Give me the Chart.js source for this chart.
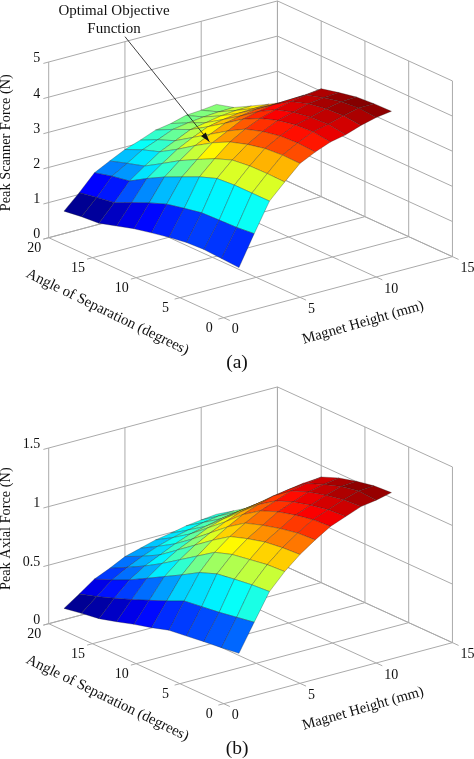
<!DOCTYPE html>
<html>
<head>
<meta charset="utf-8">
<title>Peak force surfaces</title>
<script src="https://cdn.jsdelivr.net/npm/chart.js@4/dist/chart.umd.js"></script>
<style>
  html, body { margin: 0; padding: 0; background: #fff; }
  canvas { display: block; }
</style>
</head>
<body>
<canvas id="scanner" width="474" height="380"></canvas>
<canvas id="axial" width="474" height="379"></canvas>
<script>
// Grid of the surface: one row per angle, one column per magnet height
const angles = [0, 2, 4, 6, 8, 10, 12, 14, 16, 18, 20];
const heights = [1, 2, 3, 4, 5, 6, 7, 8, 9, 10, 11];

// Figure (a)
const scannerForce = [
  [1.31, 2.16, 2.97, 3.40, 3.81, 4.02, 4.19, 4.28, 4.43, 4.54, 4.60],
  [1.34, 2.11, 2.97, 3.41, 3.82, 4.05, 4.25, 4.35, 4.48, 4.58, 4.59],
  [1.37, 2.09, 2.97, 3.40, 3.78, 4.02, 4.22, 4.32, 4.45, 4.53, 4.55],
  [1.34, 2.07, 2.93, 3.34, 3.67, 3.92, 4.12, 4.24, 4.36, 4.42, 4.45],
  [1.26, 1.97, 2.75, 3.15, 3.51, 3.76, 3.95, 4.08, 4.20, 4.27, 4.33],
  [1.16, 1.86, 2.52, 2.90, 3.26, 3.48, 3.70, 3.80, 3.88, 3.90, 3.92],
  [1.05, 1.67, 2.29, 2.64, 2.95, 3.16, 3.36, 3.45, 3.52, 3.52, 3.50],
  [0.90, 1.45, 2.02, 2.33, 2.62, 2.84, 3.03, 3.12, 3.18, 3.20, 3.21],
  [0.75, 1.22, 1.72, 2.03, 2.32, 2.52, 2.72, 2.80, 2.88, 2.92, 2.93],
  [0.71, 1.14, 1.63, 1.88, 2.15, 2.32, 2.50, 2.57, 2.62, 2.65, 2.66],
  [0.64, 1.05, 1.50, 1.72, 1.93, 2.08, 2.25, 2.32, 2.44, 2.47, 2.52]
];

// Figure (b)
const axialForce = [
  [0.395, 0.626, 0.853, 0.989, 1.10, 1.19, 1.27, 1.32, 1.37, 1.39, 1.42],
  [0.375, 0.600, 0.842, 0.980, 1.09, 1.18, 1.26, 1.31, 1.36, 1.40, 1.41],
  [0.358, 0.574, 0.822, 0.955, 1.07, 1.15, 1.23, 1.28, 1.33, 1.37, 1.38],
  [0.338, 0.554, 0.799, 0.930, 1.03, 1.11, 1.19, 1.24, 1.29, 1.32, 1.34],
  [0.319, 0.534, 0.742, 0.880, 0.98, 1.06, 1.13, 1.18, 1.23, 1.26, 1.28],
  [0.273, 0.466, 0.654, 0.780, 0.88, 0.96, 1.03, 1.08, 1.12, 1.14, 1.16],
  [0.233, 0.403, 0.571, 0.680, 0.77, 0.84, 0.90, 0.95, 0.98, 1.00, 1.01],
  [0.187, 0.341, 0.488, 0.580, 0.66, 0.72, 0.78, 0.82, 0.85, 0.87, 0.88],
  [0.145, 0.284, 0.406, 0.490, 0.55, 0.61, 0.66, 0.69, 0.72, 0.74, 0.75],
  [0.122, 0.230, 0.337, 0.410, 0.47, 0.52, 0.56, 0.59, 0.62, 0.64, 0.65],
  [0.096, 0.184, 0.277, 0.334, 0.399, 0.435, 0.472, 0.494, 0.522, 0.538, 0.552]
];

const angleTicks = [0, 5, 10, 15, 20];
const heightTicks = [0, 5, 10, 15];
const scannerTicks = [0, 1, 2, 3, 4, 5];
const axialTicks = [0, 0.5, 1, 1.5];

const FONT = '"Liberation Serif", "Times New Roman", serif';
const GRID = '#aaaaaa';

// Jet colormap, t goes from 0 to 1
function jet(t) {
  const c = v => Math.round(255 * Math.max(0, Math.min(1, v)));
  const r = 1.5 - Math.abs(4 * t - 3);
  const g = 1.5 - Math.abs(4 * t - 2);
  const b = 1.5 - Math.abs(4 * t - 1);
  return `rgb(${c(r)},${c(g)},${c(b)})`;
}

function buildPanel(canvasId, panel) {
  const zMax = panel.zTicks[panel.zTicks.length - 1];
  const flat = panel.values.flat();
  const low = Math.min(...flat);
  const high = Math.max(...flat);

  // Orthographic view of the box, result is in the units of the hidden x/y scales
  const project = (a, h, z) => ({
    x: 223.7 - 8.75 * a + 15.25 * h,
    y: panel.originY - 4 * a - 4.07 * h - 175.7 * z / zMax
  });

  const line = (p, q) => ({
    data: [p, q],
    showLine: true,
    fill: false,
    borderColor: GRID,
    borderWidth: 1,
    pointRadius: 0
  });

  const datasets = [];

  // The first dataset is painted last, so cells go from the front to the back
  for (let i = 0; i < angles.length - 1; i++) {
    for (let j = 0; j < heights.length - 1; j++) {
      const z = panel.values;
      datasets.push({
        data: [
          project(angles[i], heights[j], z[i][j]),
          project(angles[i + 1], heights[j], z[i + 1][j]),
          project(angles[i + 1], heights[j + 1], z[i + 1][j + 1]),
          project(angles[i], heights[j + 1], z[i][j + 1]),
          project(angles[i], heights[j], z[i][j])
        ],
        showLine: true,
        fill: 'shape',
        tension: 0,
        backgroundColor: jet((z[i][j] - low) / (high - low)),
        borderColor: 'rgba(30,30,30,0.42)',
        borderWidth: 0.7,
        pointRadius: 0
      });
    }
  }

  // Walls, floor and the short tick marks outside the box
  angleTicks.forEach(a => {
    datasets.push(line(project(a, -0.35, 0), project(a, 15, 0)));
    datasets.push(line(project(a, 15, 0), project(a, 15, zMax)));
  });
  heightTicks.forEach(h => {
    datasets.push(line(project(-0.7, h, 0), project(20, h, 0)));
    datasets.push(line(project(20, h, 0), project(20, h, zMax)));
  });
  panel.zTicks.forEach(v => {
    datasets.push(line(project(20, -0.35, v), project(20, 15, v)));
    datasets.push(line(project(20, 15, v), project(0, 15, v)));
  });

  const rotated = (ctx, text, x, y, deg, size) => {
    ctx.save();
    ctx.translate(x, y);
    ctx.rotate(deg * Math.PI / 180);
    ctx.font = `${size}px ${FONT}`;
    ctx.textAlign = 'center';
    ctx.textBaseline = 'middle';
    ctx.fillText(text, 0, 0);
    ctx.restore();
  };

  const textPlugin = {
    id: 'boxText',
    afterDatasetsDraw(chart) {
      const ctx = chart.ctx;
      const sx = chart.scales.x;
      const sy = chart.scales.y;
      const at = p => ({ x: sx.getPixelForValue(p.x), y: sy.getPixelForValue(p.y) });

      ctx.save();
      ctx.fillStyle = '#111';

      ctx.font = `14px ${FONT}`;
      ctx.textBaseline = 'middle';
      ctx.textAlign = 'right';
      panel.zTicks.forEach(v => {
        const p = at(project(20, 0, v));
        ctx.fillText(String(v), p.x - 8.5, p.y - 3.3);
      });
      ctx.textAlign = 'center';
      angleTicks.forEach(a => {
        const p = at(project(a, 0, 0));
        ctx.fillText(String(a), p.x - 14.5, p.y + 10.7);
      });
      ctx.textAlign = 'left';
      heightTicks.forEach(h => {
        const p = at(project(0, h, 0));
        ctx.fillText(String(h), p.x + 8, p.y + 12);
      });

      const o = panel.originY;
      rotated(ctx, panel.zTitle, 6.5, o - 175, -90, 14.3);
      rotated(ctx, 'Angle of Separation (degrees)', 107.5, o - 5.5, 26, 14.9);
      rotated(ctx, 'Magnet Height (mm)', 363, o + 5, -16, 14.8);
      rotated(ctx, panel.caption, 237, o + 45, 0, 19.5);

      // Note and arrow of figure (a) point at a grid vertex of the surface
      if (panel.note) {
        panel.note.forEach((t, k) => rotated(ctx, t, 114, 11 + 18 * k, 0, 15));
        const tip = at(project(10, 5, panel.values[5][4]));
        const tx = tip.x - 3, ty = tip.y - 1;
        const fx = 125, fy = 36.7;
        const ang = Math.atan2(ty - fy, tx - fx);
        ctx.strokeStyle = '#111';
        ctx.lineWidth = 0.8;
        ctx.beginPath();
        ctx.moveTo(fx, fy);
        ctx.lineTo(tx, ty);
        ctx.stroke();
        ctx.beginPath();
        ctx.moveTo(tx, ty);
        ctx.lineTo(tx - 10 * Math.cos(ang - 0.3), ty - 10 * Math.sin(ang - 0.3));
        ctx.lineTo(tx - 10 * Math.cos(ang + 0.3), ty - 10 * Math.sin(ang + 0.3));
        ctx.closePath();
        ctx.fill();
      }
      ctx.restore();
    }
  };

  const canvas = document.getElementById(canvasId);
  return new Chart(canvas, {
    type: 'scatter',
    data: { datasets },
    options: {
      responsive: false,
      animation: false,
      events: [],
      layout: { padding: 0 },
      plugins: { legend: { display: false }, tooltip: { enabled: false } },
      scales: {
        x: { type: 'linear', display: false, min: 0, max: canvas.width },
        y: { type: 'linear', display: false, min: 0, max: canvas.height, reverse: true }
      }
    },
    plugins: [textPlugin]
  });
}

buildPanel('scanner', {
  values: scannerForce,
  zTicks: scannerTicks,
  zTitle: 'Peak Scanner Force (N)',
  caption: '(a)',
  originY: 317.7,
  note: ['Optimal Objective', 'Function']
});

buildPanel('axial', {
  values: axialForce,
  zTicks: axialTicks,
  zTitle: 'Peak Axial Force (N)',
  caption: '(b)',
  originY: 323.7
});
</script>
</body>
</html>
